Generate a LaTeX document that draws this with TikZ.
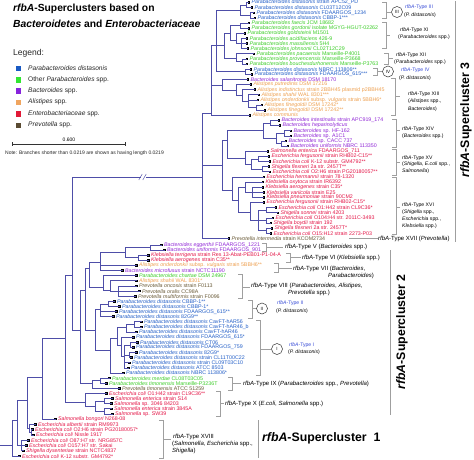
\documentclass[tikz,border=0pt]{standalone}
\usepackage{fontspec}
\setmainfont{Liberation Sans}
\definecolor{treeblue}{RGB}{78,78,168}
\definecolor{cPd}{RGB}{35,95,200}
\definecolor{cPo}{RGB}{60,205,40}
\definecolor{cBa}{RGB}{145,40,215}
\definecolor{cAl}{RGB}{238,160,80}
\definecolor{cEn}{RGB}{228,20,70}
\definecolor{cPr}{RGB}{105,90,55}
\definecolor{cType}{RGB}{55,75,215}
\definecolor{lPd}{RGB}{25,90,195}
\definecolor{lPo}{RGB}{50,230,50}
\definecolor{lBa}{RGB}{135,35,220}
\definecolor{lAl}{RGB}{240,165,95}
\definecolor{lEn}{RGB}{225,25,55}
\definecolor{lPr}{RGB}{90,75,50}
\tikzset{
  br/.style={draw=treeblue, line width=0.7pt},
  bk/.style={draw=gray!75, line width=0.5pt},
  bkl/.style={draw=gray!75, line width=0.8pt},
  lab/.style={anchor=west, inner sep=0pt, font=\fontsize{5.3}{6}\selectfont},
  ann/.style={anchor=west, inner sep=0pt, font=\fontsize{5.1}{6}\selectfont},
  annb/.style={anchor=west, inner sep=0pt, font=\fontsize{6}{7}\selectfont},
  circ/.style={circle, draw=black!80, line width=0.5pt, minimum size=11pt, inner sep=0pt, font=\fontsize{4.6}{5}\selectfont},
  sc/.style={font=\bfseries\fontsize{12.3}{14}\selectfont, inner sep=0pt},
  leg/.style={anchor=west, inner sep=0pt, font=\fontsize{6.6}{8}\selectfont, text=black!85},
}
\newcommand\lf[5]{\coordinate (#1) at (#2,#3);
  \fill (#1) ++(-1.3pt,-1.3pt) rectangle ++(2.6pt,2.6pt);
  \node[lab,text=#4] (#1t) at ([xshift=2.4pt]#1) {#5};}
\newcommand\nd[4]{\coordinate (#1) at (#2,#3);
  \foreach \ch in {#4} {\draw[br] (#1) |- (\ch);}}
\newcommand\brk[5]{\draw[bk] (#1-4,#2) -- (#1,#2) -- (#1,#3) -- (#1-4,#3);
  \draw[bk] (#1,#4) -- (#1+#5,#4);}
\begin{document}
\begin{tikzpicture}[x=1pt,y=-1pt]
\useasboundingbox[fill=white] (0,0) rectangle (474,459);

% ---------- title and legend
\node[anchor=west, inner sep=0pt, font=\bfseries\fontsize{10.3}{12}\selectfont] (title1) at (13,9) {\textit{rfbA}-Superclusters based on};
\node[anchor=west, inner sep=0pt, font=\bfseries\fontsize{10.3}{12}\selectfont] (title2) at (13,24) {\textit{Bacteroidetes} and \textit{Enterobacteriaceae}};
\node[anchor=west, inner sep=0pt, font=\fontsize{8.5}{10}\selectfont, text=black!85] (legend) at (13,53) {Legend:};
\fill[lPd] (15.5,65.5) rectangle (21,71);
\fill[lPo] (15.5,77) rectangle (21,82.5);
\fill[lBa] (15.5,88) rectangle (21,93.5);
\fill[lAl] (15.5,99.5) rectangle (21,105);
\fill[lEn] (15.5,111) rectangle (21,116.5);
\fill[lPr] (15.5,122.5) rectangle (21,128);
\node[leg] (lg1) at (28,68.2) {\textit{Parabacteroides distasonis}};
\node[leg] (lg2) at (28,79.7) {Other \textit{Parabacteroides} spp.};
\node[leg] (lg3) at (28,90.7) {\textit{Bacteroides} spp.};
\node[leg] (lg4) at (28,102.2) {\textit{Alistipes} spp.};
\node[leg] (lg5) at (28,113.7) {\textit{Enterobacteriaceae} spp.};
\node[leg] (lg6) at (28,125.2) {\textit{Prevotella} spp.};
\coordinate (sb0) at (12,144); \coordinate (sb1) at (125,144);
\draw[line width=0.5pt, black!80] (sb0) -- (sb1);
\draw[line width=0.5pt, black!80] (12,142) -- (12,146) (125,142) -- (125,146);
\node[inner sep=0pt, font=\fontsize{5}{6}\selectfont] (sbl) at (69,139.5) {0.600};
\node[anchor=west, inner sep=0pt, font=\fontsize{5}{6}\selectfont, text=black!85] (note) at (5,153.5) {Note: Branches shorter than 0.0219 are shown as having length 0.0219};

% ---------- leaves, supercluster 3
\lf{a0}{249}{2.5}{cPd}{\textit{Parabacteroides distasonis} strain APC52\_PD}
\lf{a1}{252}{7.6}{cPd}{\textit{Parabacteroides distasonis} CL03T12C09}
\lf{a2}{254}{12.8}{cPd}{\textit{Parabacteroides distasonis} FDAARGOS\_1234}
\lf{a3}{255}{17.9}{cPd}{\textit{Parabacteroides distasonis} CBBP-1***}
\lf{a4}{249}{23.0}{cPo}{\textit{Parabacteroides faecis} JCM 18682}
\lf{a5}{249}{28.2}{cPo}{\textit{Parabacteroides gordonii} isolate MGYG-HGUT-02262}
\lf{a6}{245}{33.3}{cPo}{\textit{Parabacteroides goldsteinii} M1501}
\lf{a7}{247}{38.4}{cPo}{\textit{Parabacteroides acidifaciens} 426-9}
\lf{a8}{247}{43.5}{cPo}{\textit{Parabacteroides massiliensis} 5H4}
\lf{a9}{248}{48.7}{cPo}{\textit{Parabacteroides johnsonii} CL02T12C29}
\lf{a10}{254}{53.8}{cPo}{\textit{Parabacteroides pacaensis} Marseille-P4001}
\lf{a11}{247}{58.9}{cPo}{\textit{Parabacteroides provencensis} Marseille-P3668}
\lf{a12}{247}{64.1}{cPo}{\textit{Parabacteroides bouchesdurhonensis} Marseille-P3763}
\lf{a13}{251}{69.2}{cPd}{\textit{Parabacteroides distasonis} NBRC 113806**}
\lf{a14}{252}{74.3}{cPd}{\textit{Parabacteroides distasonis} FDAARGOS\_615***}
\lf{a15}{248}{79.5}{cBa}{\textit{Bacteroides salanitronis} DSM 18170}
\lf{a16}{251}{84.6}{cAl}{\textit{Alistipes putredinis} DSM 17216}
\lf{a17}{255}{89.7}{cAl}{\textit{Alistipes indistinctus} strain 2BBH45 plasmid p2BBH45}
\lf{a18}{259}{94.8}{cAl}{\textit{Alistipes shahii} WAL 8301***}
\lf{a19}{258}{100.0}{cAl}{\textit{Alistipes onderdonkii} subsp. \textit{vulgaris} strain 5BBH6*}
\lf{a20}{262}{105.1}{cAl}{\textit{Alistipes finegoldii} DSM 17242*}
\lf{a21}{265}{110.2}{cAl}{\textit{Alistipes finegoldii} DSM 17242**}
\lf{a22}{250}{115.4}{cAl}{\textit{Alistipes communis}}
\lf{a23}{279}{120.5}{cBa}{\textit{Bacteroides intestinalis} strain APC919\_174}
\lf{a24}{280}{125.6}{cBa}{\textit{Bacteroides heparinolyticus}}
\lf{a25}{291}{130.8}{cBa}{\textit{Bacteroides} sp. HF-162}
\lf{a26}{291}{135.9}{cBa}{\textit{Bacteroides} sp. A1C1}
\lf{a27}{286}{141.0}{cBa}{\textit{Bacteroides} sp. CACC 737}
\lf{a28}{288}{146.1}{cBa}{\textit{Bacteroides uniformis} NBRC 113350}
\lf{a29}{268}{151.3}{cEn}{\textit{Salmonella enterica} FDAARGOS\_711}
\lf{a30}{269}{156.4}{cEn}{\textit{Escherichia fergusonii} strain RHB02-C15**}
\lf{a31}{270}{161.5}{cEn}{\textit{Escherichia coli} K-12 substr. GM4792**}
\lf{a32}{269}{166.7}{cEn}{\textit{Shigella flexneri} 2a str. 2457T**}
\lf{a33}{270}{171.8}{cEn}{\textit{Escherichia coli} O2:H6 strain PG20180057**}
\lf{a34}{264}{176.9}{cEn}{\textit{Escherichia hermannii} strain 78-1320}
\lf{a35}{263}{182.1}{cEn}{\textit{Klebsiella oxytoca} strain IR6392}
\lf{a36}{263}{187.2}{cEn}{\textit{Klebsiella aerogenes} strain C35*}
\lf{a37}{264}{192.3}{cEn}{\textit{Klebsiella variicola} strain E25}
\lf{a38}{264}{197.4}{cEn}{\textit{Klebsiella pneumoniae} strain 90CM2}
\lf{a39}{264}{202.6}{cEn}{\textit{Escherichia fergusonii} strain RHB02-C15*}
\lf{a40}{276}{207.7}{cEn}{\textit{Escherichia coli} O1:H42 strain CL9C36*}
\lf{a41}{278}{212.8}{cEn}{\textit{Shigella sonnei} strain 4203}
\lf{a42}{273}{217.9}{cEn}{\textit{Escherichia coli} O104:H4 str. 2011C-3493}
\lf{a43}{271}{223.1}{cEn}{\textit{Shigella boydii} strain 192}
\lf{a44}{272}{228.2}{cEn}{\textit{Shigella flexneri} 2a str. 2457T*}
\lf{a45}{271}{233.3}{cEn}{\textit{Escherichia coli} O15:H12 strain 2273-P03}
\lf{a46}{229}{238.5}{cPr}{\textit{Prevotella intermedia} strain KCOM2734}

% ---------- leaves, supercluster 2
\lf{b0}{161.5}{245.0}{cBa}{\textit{Bacteroides eggerthii} FDAARGOS\_1221}
\lf{b1}{164.5}{250.1}{cBa}{\textit{Bacteroides uniformis} FDAARGOS\_901}
\lf{b2}{148.5}{255.2}{cEn}{\textit{Klebsiella terrigena} strain Res 13-Abat-PEB01-P1-04-A}
\lf{b3}{148.5}{260.4}{cEn}{\textit{Klebsiella aerogenes} strain C35**}
\lf{b4}{136.5}{265.5}{cAl}{\textit{Alistipes onderdonkii} subsp. \textit{vulgaris} strain 5BBH6**}
\lf{b5}{122.5}{270.6}{cBa}{\textit{Bacteroides microfusus} strain NCTC11190}
\lf{b6}{136.5}{275.7}{cPo}{\textit{Parabacteroides chartae} DSM 24967}
\lf{b7}{136.5}{280.8}{cAl}{\textit{Alistipes shahii} WAL 8301*}
\lf{b8}{136.5}{286.0}{cPr}{\textit{Prevotella oncosis} strain F0113}
\lf{b9}{139.5}{291.1}{cPr}{\textit{Prevotella oralis} CC98A}
\lf{b10}{135.5}{296.2}{cPr}{\textit{Prevotella multiformis} strain F0096}
\lf{b11}{114.5}{301.3}{cPd}{\textit{Parabacteroides distasonis} CBBP-1**}
\lf{b12}{119.5}{306.4}{cPd}{\textit{Parabacteroides distasonis} CBBP-1*}
\lf{b13}{116.5}{311.6}{cPd}{\textit{Parabacteroides distasonis} FDAARGOS\_615**}
\lf{b14}{113.5}{316.7}{cPd}{\textit{Parabacteroides distasonis} 82G9**}
\lf{b15}{141.5}{321.8}{cPd}{\textit{Parabacteroides distasonis} CavFT-hAR56}
\lf{b16}{141.5}{326.9}{cPd}{\textit{Parabacteroides distasonis} CavFT-hAR46\_b}
\lf{b17}{136.5}{332.0}{cPd}{\textit{Parabacteroides distasonis} CavFT-hAR46}
\lf{b18}{133.5}{337.2}{cPd}{\textit{Parabacteroides distasonis} FDAARGOS\_615*}
\lf{b19}{137.5}{342.3}{cPd}{\textit{Parabacteroides distasonis} CT06}
\lf{b20}{133.5}{347.4}{cPd}{\textit{Parabacteroides distasonis} FDAARGOS\_759}
\lf{b21}{136.5}{352.5}{cPd}{\textit{Parabacteroides distasonis} 82G9*}
\lf{b22}{131.5}{357.6}{cPd}{\textit{Parabacteroides distasonis} strain CL11T00C22}
\lf{b23}{129.5}{362.8}{cPd}{\textit{Parabacteroides distasonis} strain CL09T03C10}
\lf{b24}{128.5}{367.9}{cPd}{\textit{Parabacteroides distasonis} ATCC 8503}
\lf{b25}{123.5}{373.0}{cPd}{\textit{Parabacteroides distasonis} NBRC 113806*}
\lf{b26}{109.5}{378.1}{cPo}{\textit{Parabacteroides merdae} CL08T03C05}
\lf{b27}{106.5}{383.2}{cPo}{\textit{Parabacteroides timonensis} Marseille-P3236T}
\lf{b28}{119.5}{388.4}{cPr}{\textit{Prevotella timonensis} ATCC 51259}
\lf{b29}{106.5}{393.5}{cEn}{\textit{Escherichia coli} O1:H42 strain CL9C36**}
\lf{b30}{112.5}{398.6}{cEn}{\textit{Salmonella enterica} strain S14}
\lf{b31}{111.5}{403.7}{cEn}{\textit{Salmonella} sp. 3046 84203}
\lf{b32}{111.5}{408.8}{cEn}{\textit{Salmonella enterica} strain 3845A}
\lf{b33}{112.5}{414.0}{cEn}{\textit{Salmonella} sp. SW39}

% ---------- leaves, supercluster 1
\lf{c0}{55.5}{419.0}{cEn}{\textit{Salmonella bongori} N268-08}
\lf{c1}{35.5}{424.3}{cEn}{\textit{Escherichia albertii} strain RM9973}
\lf{c2}{32.5}{429.6}{cEn}{\textit{Escherichia coli} O2:H6 strain PG20180057*}
\lf{c3}{33.5}{434.9}{cEn}{\textit{Escherichia coli} Nissle 1917}
\lf{c4}{28.5}{440.2}{cEn}{\textit{Escherichia coli} O87:H7 str. NRG857C}
\lf{c5}{26.5}{445.5}{cEn}{\textit{Escherichia coli} O157:H7 str. Sakai}
\lf{c6}{23.5}{450.8}{cEn}{\textit{Shigella dysenteriae} strain NCTC4837}
\lf{c7}{19.5}{456.1}{cEn}{\textit{Escherichia coli} K-12 substr. GM4792*}

% ---------- internal nodes, supercluster 3
\nd{n1}{246}{5}{a0,a1}
\nd{n2}{250}{15.3}{a2,a3}
\nd{pdtop}{240}{10}{n1,n2}
\nd{ga}{240}{25.6}{a4,a5}
\nd{gc}{241}{43.5}{a7,a8,a9}
\nd{gb}{236}{40}{a6,gc}
\nd{g1}{230}{33}{ga,gb}
\nd{gd}{242}{61.5}{a11,a12}
\nd{g2}{236}{58}{a10,gd}
\nd{parag}{224}{45}{g1,g2}
\nd{pd2}{245}{71.7}{a13,a14}
\nd{upper}{216}{45}{pdtop,parag,pd2}
\nd{al4}{256}{107.6}{a20,a21}
\nd{al3}{248}{101}{a18,a19,al4}
\nd{al2}{242}{95}{a17,al3}
\nd{al1}{236}{90}{a16,al2}
\nd{alis}{222}{85}{a15,al1}
\nd{ctop}{211}{113}{upper,alis,a22}
\nd{ba1}{270}{123}{a23,a24}
\nd{ba3}{284}{133.4}{a25,a26}
\nd{ba4}{281}{143.5}{a27,a28}
\nd{ba2}{276}{138}{ba3,ba4}
\nd{bacg}{263}{130}{ba1,ba2}
\nd{en2}{258}{159}{a30,a31}
\nd{en3}{262}{169.2}{a32,a33}
\nd{en1}{251}{164}{en2,en3}
\nd{enta}{245}{158}{a29,en1}
\nd{bacn}{227}{140}{bacg,enta}
\nd{kb1a}{252}{192.3}{a36,a37,a38}
\nd{kb1}{245}{187}{a35,kb1a}
\nd{es2}{266}{210.2}{a40,a41}
\nd{es4}{266}{220.5}{a42,a43}
\nd{es5}{266}{230.7}{a44,a45}
\nd{es1}{258}{220}{es2,es4,es5}
\nd{kb2}{250}{212}{a39,es1}
\nd{kb}{238}{200}{kb1,kb2}
\nd{entn}{232}{190}{a34,kb}
\nd{cmid}{222}{165}{bacn,entn}
\nd{s3root}{202}{177}{ctop,cmid,a46}

% ---------- internal nodes, supercluster 2
\nd{bacp}{150}{247.5}{b0,b1}
\nd{klebp}{138}{257.8}{b2,b3}
\nd{t1a}{125}{252.5}{bacp,klebp}
\nd{t1}{100}{262}{t1a,b4,b5}
\nd{t2b}{118}{291.1}{b8,b9,b10}
\nd{t2a}{110}{290}{b7,t2b}
\nd{t2}{103}{287}{b6,t2a}
\nd{topc}{89}{268}{t1,t2}
\nd{pda1}{108}{303.9}{b11,b12}
\nd{pda}{100}{309}{pda1,b13,b14}
\nd{cav1}{134}{324.4}{b15,b16}
\nd{cav}{126}{327}{cav1,b17}
\nd{pdd1}{130}{344.9}{b19,b20}
\nd{pdd2}{129}{355}{b21,b22}
\nd{pdd}{124}{356}{pdd1,pdd2,b23,b24}
\nd{pdc}{121}{345}{b18,pdd}
\nd{pdb1}{117}{338}{cav,pdc}
\nd{pdb}{110}{350}{pdb1,b25}
\nd{pdg}{95}{330}{pda,pdb}
\nd{s2a}{85}{290}{topc,pdg}
\nd{pm1}{100}{380.6}{b26,b27}
\nd{pm}{92}{383}{pm1,b28}
\nd{s2main}{80}{330}{s2a,pm}
\nd{sal2}{104}{401.2}{b30,b31}
\nd{sal3}{104}{411.4}{b32,b33}
\nd{sal1}{95}{406}{sal2,sal3}
\nd{salmg}{85}{402}{b29,sal1}
\nd{n72}{72}{275}{s3root,s2main}
\nd{n65}{65}{338}{n72,salmg}

% ---------- internal nodes, supercluster 1 and root
\nd{ndd}{31}{432}{c2,c3}
\nd{nc}{29.5}{428}{c1,ndd}
\nd{n42}{42}{377}{n65,c0}
\nd{n30}{27}{400}{n42,nc}
\nd{nb}{21}{445.5}{c4,c5,c6}
\nd{na}{17}{420}{n30,nb}
\nd{root}{12}{445}{na,c7}
\coordinate (r0) at (0,445);
\draw[br] (r0) -- (root);

% break on long branch
\fill[white] (140.5,173) rectangle (145.5,181);
\draw[treeblue, line width=0.45pt] (138.8,180) -- (142.2,174) (142.8,180) -- (146.2,174);

% ---------- annotations, supercluster 3
\brk{386}{2}{18}{12}{5}
\node[circ] (cIII) at (397,12) {III};
\node[ann,text=cType] (tIII) at (405,7) {\textit{rfbA}-Type III};
\node[ann] (sIII) at (404,15) {(\textit{P. distasonis})};
\brk{386}{22}{48}{35}{4}
\node[ann] (tXI) at (400,30.5) {\textit{rfbA}-Type XI};
\node[ann] (sXI) at (398,37.5) {(\textit{Parabacteroides} spp.)};
\brk{388}{53}{64}{58}{5}
\node[ann] (tXII) at (396,55.5) {\textit{rfbA}-Type XII};
\node[ann] (sXII) at (394,62.5) {(\textit{Parabacteroides} spp.)};
\brk{377}{68}{75}{71.5}{5}
\node[circ] (cIV) at (388,71.5) {IV};
\node[ann,text=cType] (tIV) at (401,70) {\textit{rfbA}-Type IV};
\node[ann] (sIV) at (399,78) {(\textit{P. distasonis})};
\brk{395}{78}{115.5}{96}{5}
\node[ann] (tXIII) at (408,94) {\textit{rfbA}-Type XIII};
\node[ann] (sXIII) at (408,101.5) {(\textit{Alistipes} spp.,};
\node[ann] (uXIII) at (408,109) {\textit{Bacteroides})};
\brk{396}{119}{147}{130}{4}
\node[ann] (tXIV) at (402,129) {\textit{rfbA}-Type XIV};
\node[ann] (sXIV) at (402,136) {(\textit{Bacteroides} spp.)};
\brk{396}{149.5}{175}{162}{4}
\node[ann] (tXV) at (402,158) {\textit{rfbA}-Type XV};
\node[ann] (sXV) at (402,164.5) {(\textit{Shigella}, \textit{E.coli} spp.,};
\node[ann] (uXV) at (402,171) {\textit{Salmonella})};
\brk{396}{177}{234.5}{207}{4}
\node[ann] (tXVI) at (402,205.5) {\textit{rfbA}-Type XVI};
\node[ann] (sXVI) at (402,212.5) {(\textit{Shigella} spp.,};
\node[ann] (uXVI) at (402,219.5) {\textit{Escherichia} spp.,};
\node[ann] (vXVI) at (402,226.5) {\textit{Klebsiella} spp.)};
\coordinate (xvii0) at (349,238.5);
\node[annb] (tXVII) at (378,238.5) {\textit{rfbA}-Type XVII (\textit{Prevotella})};
\draw[bk] (xvii0) -- (tXVII.west);
\draw[bkl] (455,1) -- (455,242);
\node[sc, rotate=90] (sc3) at (466,120) {\textit{rfbA}-Supercluster 3};

% ---------- annotations, supercluster 2
\brk{266}{243}{251.5}{247}{17}
\node[annb] (tV) at (285,247) {\textit{rfbA}-Type V (\textit{Bacteroides} spp.)};
\brk{290}{253}{262}{257.5}{11}
\node[annb] (tVI) at (302,257.5) {\textit{rfbA}-Type VI (\textit{Klebsiella} spp.)};
\brk{278}{263.5}{272.5}{268.5}{14}
\node[annb] (tVII) at (293,268.5) {\textit{rfbA}-Type VII (\textit{Bacteroides},};
\node[annb] (uVII) at (328,275.5) {\textit{Parabacteroides})};
\brk{242}{274}{298}{287}{8}
\node[annb] (tVIII) at (251,286) {\textit{rfbA}-Type VIII (\textit{Parabacteroides}, \textit{Alistipes},};
\node[annb] (uVIII) at (288,293) {\textit{Prevotella} spp.)};
\brk{252}{300}{318}{308.5}{4}
\node[circ] (cII) at (262,308.5) {II};
\node[ann,text=cType] (tII) at (277,303) {\textit{rfbA}-Type II};
\node[ann] (sII) at (276,311) {(\textit{P. distasonis})};
\brk{260}{320}{375}{349}{11}
\node[circ] (cI) at (277,349) {I};
\node[ann,text=cType] (tI) at (289,345) {\textit{rfbA}-Type I};
\node[ann] (sI) at (288,352.5) {(\textit{P. distasonis})};
\brk{232}{377}{390}{383.5}{9}
\node[annb] (tIX) at (243,383.5) {\textit{rfbA}-Type IX (\textit{Parabacteroides} spp., \textit{Prevotella})};
\brk{220}{391}{416}{403.5}{4}
\node[annb] (tX) at (225,403.5) {\textit{rfbA}-Type X (\textit{E.coli}, \textit{Salmonella} spp.)};
\draw[bkl] (390,250) -- (390,415);
\node[sc, rotate=90] (sc2) at (402,332) {\textit{rfbA}-Supercluster 2};

% ---------- annotations, supercluster 1
\brk{163}{420}{458}{439}{8}
\node[annb] (tXVIII) at (173,436.5) {\textit{rfbA}-Type XVIII};
\node[annb] (sXVIII) at (172,443.8) {(\textit{Salmonella}, \textit{Escherichia} spp.,};
\node[annb] (uXVIII) at (172,451) {\textit{Shigella})};
\draw[bkl] (258,420) -- (258,458);
\node[sc, anchor=west] (sc1) at (262,438) {\textit{rfbA}-Supercluster\ \ 1};
\end{tikzpicture}
\end{document}
